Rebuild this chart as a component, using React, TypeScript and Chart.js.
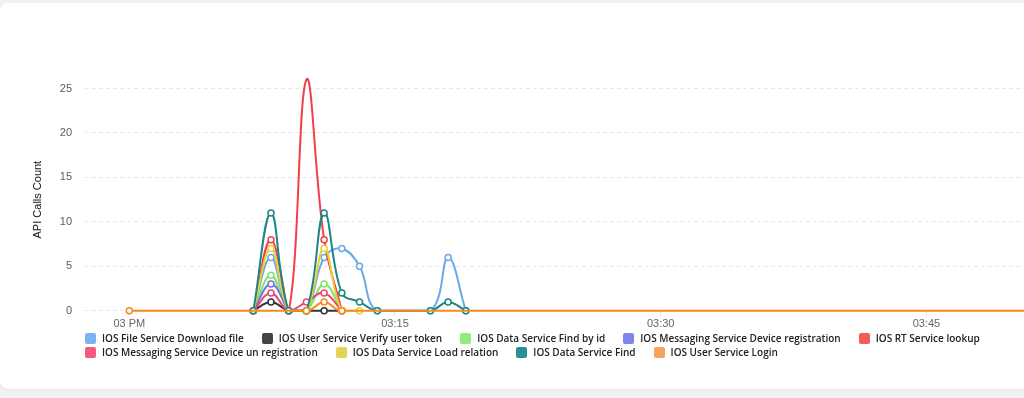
import React, { useEffect, useRef } from "react";
import { Chart, registerables } from "chart.js";

Chart.register(...registerables);

// Minutes after 03 PM at which samples exist (60 = 04 PM, beyond the visible edge)
const MINUTES = [0, 7, 8, 9, 10, 11, 12, 13, 14, 17, 18, 19, 60];

const X_TICKS = [0, 15, 30, 45, 60];
const X_TICK_LABELS = ["03 PM", "03:15", "03:30", "03:45", "04 PM"];

const SERIES_NAMES = [
  "IOS File Service Download file",
  "IOS User Service Verify user token",
  "IOS Data Service Find by id",
  "IOS Messaging Service Device registration",
  "IOS RT Service lookup",
  "IOS Messaging Service Device un registration",
  "IOS Data Service Load relation",
  "IOS Data Service Find",
  "IOS User Service Login",
];

const FILE_DOWNLOAD = [null, 0, 6, 0, 0, 6, 7, 5, 0, 0, 6, 0, null];
const VERIFY_TOKEN = [null, 0, 1, 0, 0, 0, 0, null, null, null, null, null, null];
const FIND_BY_ID = [null, 0, 4, 0, 0, 3, 0, null, null, null, null, null, null];
const DEVICE_REGISTRATION = [null, 0, 3, 0, null, null, null, null, null, null, null, null, null];
const RT_LOOKUP = [null, 0, 8, 0, 26, 8, 0, null, null, null, null, null, null];
const DEVICE_UNREGISTRATION = [null, 0, 2, 0, 1, 2, 0, null, null, null, null, null, null];
const LOAD_RELATION = [null, 0, 7, 0, 0, 7, 0, 0, null, null, null, null, null];
const DATA_FIND = [null, 0, 11, 0, 0, 11, 2, 1, 0, 0, 1, 0, null];
const USER_LOGIN = [0, null, null, null, 0, 1, 0, null, null, null, null, null, 0];

const SERIES_VALUES = [
  FILE_DOWNLOAD,
  VERIFY_TOKEN,
  FIND_BY_ID,
  DEVICE_REGISTRATION,
  RT_LOOKUP,
  DEVICE_UNREGISTRATION,
  LOAD_RELATION,
  DATA_FIND,
  USER_LOGIN,
];

const LINE_COLORS = [
  "#68abe8",
  "#333338",
  "#7fe46a",
  "#6f75e6",
  "#f23f46",
  "#ef4472",
  "#e9cf3c",
  "#1e8684",
  "#f78a1c",
];

const LEGEND_COLORS = [
  "#7cb5ec",
  "#434348",
  "#90ed7d",
  "#8085e9",
  "#f45b5b",
  "#f15c80",
  "#e4d354",
  "#2b908f",
  "#f7a35c",
];

const FONT = "'Liberation Sans', Arial, sans-serif";

export default function App() {
  const canvasRef = useRef<HTMLCanvasElement | null>(null);

  useEffect(() => {
    if (!canvasRef.current) return;
    const n = SERIES_NAMES.length;
    const datasets = SERIES_NAMES.map((name, i) => ({
      label: name,
      data: MINUTES.map((m, j) => ({ x: m, y: SERIES_VALUES[i][j] })),
      borderColor: LINE_COLORS[i],
      backgroundColor: LINE_COLORS[i],
      pointBackgroundColor: "#ffffff",
      pointBorderColor: LINE_COLORS[i],
      pointBorderWidth: 1.5,
      pointRadius: 3,
      borderWidth: 2,
      tension: 0.4,
      spanGaps: true,
      fill: false,
      clip: false as any,
      order: n - i,
    }));

    const chart = new Chart(canvasRef.current, {
      type: "line",
      data: { datasets },
      options: {
        animation: false,
        responsive: false,
        parsing: false as any,
        layout: { padding: { top: 88.5, right: 13, bottom: 1, left: 0 } },
        plugins: {
          legend: { display: false },
          tooltip: { enabled: false },
        },
        scales: {
          x: {
            type: "linear",
            min: -2.5,
            max: 60,
            afterBuildTicks: (scale: any) => {
              scale.ticks = X_TICKS.map((v) => ({ value: v }));
            },
            grid: {
              drawOnChartArea: false,
              drawTicks: true,
              tickLength: 5,
              color: "#e0e0e0",
            },
            border: { display: false },
            ticks: {
              autoSkip: false,
              maxRotation: 0,
              padding: 2,
              color: "#666666",
              font: { family: FONT, size: 11 },
              callback: (v: any) => {
                const idx = X_TICKS.indexOf(Number(v));
                return idx >= 0 ? X_TICK_LABELS[idx] : "";
              },
            },
          },
          y: {
            min: 0,
            max: 25,
            afterFit: (scale: any) => {
              scale.width = 85;
            },
            grid: {
              color: "#e6e6e6",
              drawTicks: false,
              lineWidth: 1,
            },
            border: { display: false, dash: [4, 3] },
            ticks: {
              stepSize: 5,
              padding: 13,
              color: "#555e6a",
              font: { family: FONT, size: 11 },
            },
            title: {
              display: true,
              text: "API Calls Count",
              color: "#111111",
              font: { family: FONT, size: 11 },
              padding: { top: 31, bottom: 0 },
            },
          },
        },
      },
    });
    return () => chart.destroy();
  }, []);

  return (
    <div
      style={{
        position: "fixed",
        inset: 0,
        background: "#f2f2f2",
        overflow: "hidden",
      }}
    >
      <div
        style={{
          position: "absolute",
          left: 0,
          top: 3,
          width: 1300,
          height: 386,
          background: "#ffffff",
          borderRadius: 8,
          boxShadow: "0 1px 2px rgba(0,0,0,0.06)",
        }}
      />
      <canvas
        ref={canvasRef}
        width={1210}
        height={334}
        style={{ position: "absolute", left: 0, top: 0, display: "block" }}
      />
      <div
        style={{
          position: "absolute",
          left: 85,
          top: 331,
          width: 930,
          display: "flex",
          flexWrap: "wrap",
          columnGap: 18,
          rowGap: 0,
          fontFamily: "'Open Sans', sans-serif",
          fontWeight: 600,
          fontSize: 10,
          lineHeight: "14px",
          color: "#222222",
        }}
      >
        {SERIES_NAMES.map((name, i) => (
          <div key={name} style={{ display: "flex", alignItems: "center", whiteSpace: "nowrap" }}>
            <span
              style={{
                display: "inline-block",
                width: 11,
                height: 11,
                borderRadius: 2,
                background: LEGEND_COLORS[i],
                marginRight: 6,
              }}
            />
            <span>{name}</span>
          </div>
        ))}
      </div>
    </div>
  );
}
